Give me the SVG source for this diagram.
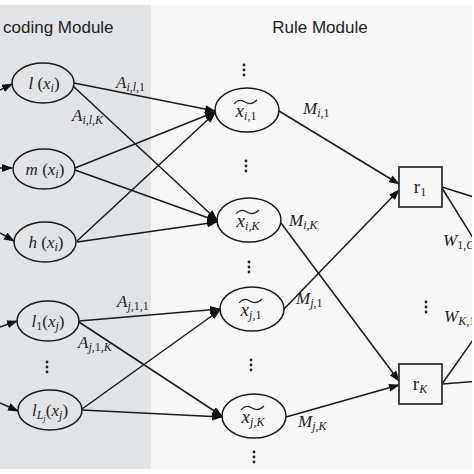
<svg xmlns="http://www.w3.org/2000/svg" width="474" height="474" viewBox="0 0 474 474">
<style>
.title{font-family:"Liberation Sans",Arial,sans-serif;font-size:17px;fill:#222}
.node{fill:none;stroke:#1a1a1a;stroke-width:1.5}
.box{fill:#f7f7f7;stroke:#333;stroke-width:1.8}
.m{font-family:"Liberation Serif","DejaVu Serif",serif;font-size:17px;fill:#222}
.i{font-style:italic}
.sub{font-size:12px}
.edge{stroke:#1a1a1a;stroke-width:1.5;fill:none}
.tl{fill:none;stroke:#222;stroke-width:1.1}
.dot{fill:#222}
</style>
<defs>
<marker id="ah" markerUnits="userSpaceOnUse" markerWidth="11" markerHeight="8" refX="10" refY="4" orient="auto">
<path d="M0,0 L11,4 L0,8 z" fill="#111"/>
</marker>
</defs>
<rect x="0" y="0" width="474" height="474" fill="#ffffff"/>
<rect x="0" y="5" width="151" height="464" fill="#e2e5e8"/>
<rect x="151" y="5" width="321" height="464" fill="#f7f7f7"/>
<text class="title" x="3" y="33">coding Module</text>
<text class="title" x="320" y="33" text-anchor="middle">Rule Module</text>

<g id="connectors">
<line class="edge" x1="0" y1="90" x2="12" y2="84" marker-end="url(#ah)"/>
<line class="edge" x1="0" y1="168" x2="12" y2="168" marker-end="url(#ah)"/>
<line class="edge" x1="0" y1="233" x2="14" y2="241" marker-end="url(#ah)"/>
<line class="edge" x1="0" y1="327" x2="17" y2="321" marker-end="url(#ah)"/>
<line class="edge" x1="0" y1="403" x2="18" y2="411" marker-end="url(#ah)"/>
<line class="edge" x1="74" y1="83" x2="215" y2="111" marker-end="url(#ah)"/>
<line class="edge" x1="73" y1="86" x2="217" y2="220" marker-end="url(#ah)"/>
<line class="edge" x1="75" y1="168" x2="215" y2="112" marker-end="url(#ah)"/>
<line class="edge" x1="75" y1="170" x2="217" y2="221" marker-end="url(#ah)"/>
<line class="edge" x1="77" y1="241" x2="215" y2="113" marker-end="url(#ah)"/>
<line class="edge" x1="77" y1="242" x2="217" y2="222" marker-end="url(#ah)"/>
<line class="edge" x1="79" y1="321" x2="220" y2="309" marker-end="url(#ah)"/>
<line class="edge" x1="79" y1="322" x2="222" y2="416" marker-end="url(#ah)"/>
<line class="edge" x1="82" y1="409" x2="220" y2="310" marker-end="url(#ah)"/>
<line class="edge" x1="82" y1="410" x2="222" y2="417" marker-end="url(#ah)"/>
<line class="edge" x1="279" y1="111" x2="399" y2="184" marker-end="url(#ah)"/>
<line class="edge" x1="281" y1="223" x2="399" y2="381" marker-end="url(#ah)"/>
<line class="edge" x1="284" y1="309" x2="399" y2="190" marker-end="url(#ah)"/>
<line class="edge" x1="286" y1="417" x2="399" y2="385" marker-end="url(#ah)"/>
<line class="edge" x1="442" y1="187" x2="480" y2="199"/>
<line class="edge" x1="442" y1="188" x2="480" y2="249"/>
<line class="edge" x1="442" y1="384" x2="480" y2="330"/>
<line class="edge" x1="442" y1="384" x2="480" y2="381"/>
</g>

<g id="n-l"><ellipse class="node" cx="43" cy="83" rx="31" ry="20"/>
<text class="m" x="44" y="89" text-anchor="middle"><tspan class="i">l</tspan> (<tspan class="i">x</tspan><tspan class="sub i" dy="3">i</tspan><tspan dy="-3">)</tspan></text></g>
<g id="n-m"><ellipse class="node" cx="44" cy="169" rx="31" ry="20"/>
<text class="m" x="45" y="175" text-anchor="middle"><tspan class="i">m</tspan> (<tspan class="i">x</tspan><tspan class="sub i" dy="3">i</tspan><tspan dy="-3">)</tspan></text></g>
<g id="n-h"><ellipse class="node" cx="45" cy="242" rx="31" ry="20"/>
<text class="m" x="46" y="248" text-anchor="middle"><tspan class="i">h</tspan> (<tspan class="i">x</tspan><tspan class="sub i" dy="3">i</tspan><tspan dy="-3">)</tspan></text></g>
<g id="n-l1"><ellipse class="node" cx="48" cy="321" rx="31" ry="20"/>
<text class="m" x="48" y="327" text-anchor="middle"><tspan class="i">l</tspan><tspan class="sub" dy="3">1</tspan><tspan dy="-3">(</tspan><tspan class="i">x</tspan><tspan class="sub i" dy="3">j</tspan><tspan dy="-3">)</tspan></text></g>
<g id="n-lL"><ellipse class="node" cx="50" cy="410" rx="32" ry="20"/>
<text class="m" x="50" y="416" text-anchor="middle"><tspan class="i">l</tspan><tspan class="sub i" dy="3">L</tspan><tspan class="i" style="font-size:9px" dy="2">j</tspan><tspan dy="-5">(</tspan><tspan class="i">x</tspan><tspan class="sub i" dy="3">j</tspan><tspan dy="-3">)</tspan></text></g>
<g id="dots-left"><circle class="dot" cx="47" cy="362" r="1.4"/><circle class="dot" cx="47" cy="367" r="1.4"/><circle class="dot" cx="47" cy="372" r="1.4"/></g>

<g id="n-xi1"><ellipse class="node" cx="247" cy="110" rx="32" ry="22"/>
<text class="m" x="246" y="117" text-anchor="middle"><tspan class="i" style="font-size:19px">x</tspan><tspan class="sub" dy="3"><tspan class="i">i</tspan>,1</tspan></text>
<path class="tl" d="M234,104 C238,99 242,100 245,102 C248,104 252,105 257,100"/></g>
<g id="n-xiK"><ellipse class="node" cx="249" cy="220" rx="32" ry="22"/>
<text class="m" x="248" y="227" text-anchor="middle"><tspan class="i" style="font-size:19px">x</tspan><tspan class="sub i" dy="3">i,K</tspan></text>
<path class="tl" d="M236,214 C240,209 244,210 247,212 C250,214 254,215 259,210"/></g>
<g id="n-xj1"><ellipse class="node" cx="252" cy="309" rx="32" ry="22"/>
<text class="m" x="251" y="316" text-anchor="middle"><tspan class="i" style="font-size:19px">x</tspan><tspan class="sub" dy="3"><tspan class="i">j</tspan>,1</tspan></text>
<path class="tl" d="M239,303 C243,298 247,299 250,301 C253,303 257,304 262,299"/></g>
<g id="n-xjK"><ellipse class="node" cx="254" cy="416" rx="32" ry="22"/>
<text class="m" x="253" y="423" text-anchor="middle"><tspan class="i" style="font-size:19px">x</tspan><tspan class="sub i" dy="3">j,K</tspan></text>
<path class="tl" d="M241,410 C245,405 249,406 252,408 C255,410 259,411 264,406"/></g>
<g id="dots-mid">
<circle class="dot" cx="244" cy="65" r="1.4"/><circle class="dot" cx="244" cy="70" r="1.4"/><circle class="dot" cx="244" cy="75" r="1.4"/>
<circle class="dot" cx="246" cy="161" r="1.4"/><circle class="dot" cx="246" cy="166" r="1.4"/><circle class="dot" cx="246" cy="171" r="1.4"/>
<circle class="dot" cx="249" cy="262" r="1.4"/><circle class="dot" cx="249" cy="267" r="1.4"/><circle class="dot" cx="249" cy="272" r="1.4"/>
<circle class="dot" cx="251" cy="360" r="1.4"/><circle class="dot" cx="251" cy="365" r="1.4"/><circle class="dot" cx="251" cy="370" r="1.4"/>
<circle class="dot" cx="254" cy="452" r="1.4"/><circle class="dot" cx="254" cy="457" r="1.4"/><circle class="dot" cx="254" cy="462" r="1.4"/>
</g>

<g id="n-r1"><rect class="box" x="399" y="167" width="43" height="40"/>
<text class="m" x="420" y="193" text-anchor="middle" style="font-size:19px">r<tspan class="sub" dy="3">1</tspan></text></g>
<g id="n-rK"><rect class="box" x="399" y="364" width="43" height="40"/>
<text class="m" x="420" y="390" text-anchor="middle" style="font-size:19px">r<tspan class="sub i" dy="3">K</tspan></text></g>
<g id="dots-right"><circle class="dot" cx="426" cy="302" r="1.4"/><circle class="dot" cx="426" cy="307" r="1.4"/><circle class="dot" cx="426" cy="312" r="1.4"/></g>

<g id="labels">
<text class="m" x="116" y="88"><tspan class="i">A</tspan><tspan class="sub" dy="3"><tspan class="i">i,l</tspan>,1</tspan></text>
<text class="m" x="72" y="121"><tspan class="i">A</tspan><tspan class="sub i" dy="3">i,l,K</tspan></text>
<text class="m" x="117" y="307"><tspan class="i">A</tspan><tspan class="sub" dy="3"><tspan class="i">j</tspan>,1,1</tspan></text>
<text class="m" x="78" y="348"><tspan class="i">A</tspan><tspan class="sub" dy="3"><tspan class="i">j</tspan>,1,<tspan class="i">K</tspan></tspan></text>
<text class="m" x="303" y="114"><tspan class="i">M</tspan><tspan class="sub" dy="3"><tspan class="i">i</tspan>,1</tspan></text>
<text class="m" x="289" y="226"><tspan class="i">M</tspan><tspan class="sub i" dy="3">i,K</tspan></text>
<text class="m" x="296" y="304"><tspan class="i">M</tspan><tspan class="sub" dy="3"><tspan class="i">j</tspan>,1</tspan></text>
<text class="m" x="298" y="427"><tspan class="i">M</tspan><tspan class="sub i" dy="3">j,K</tspan></text>
<text class="m" x="443" y="246"><tspan class="i">W</tspan><tspan class="sub" dy="3">1,<tspan class="i">C</tspan></tspan></text>
<text class="m" x="444" y="322"><tspan class="i">W</tspan><tspan class="sub" dy="3"><tspan class="i">K</tspan>,1</tspan></text>
</g>
<rect x="472" y="0" width="2" height="474" fill="#ffffff"/>
</svg>
